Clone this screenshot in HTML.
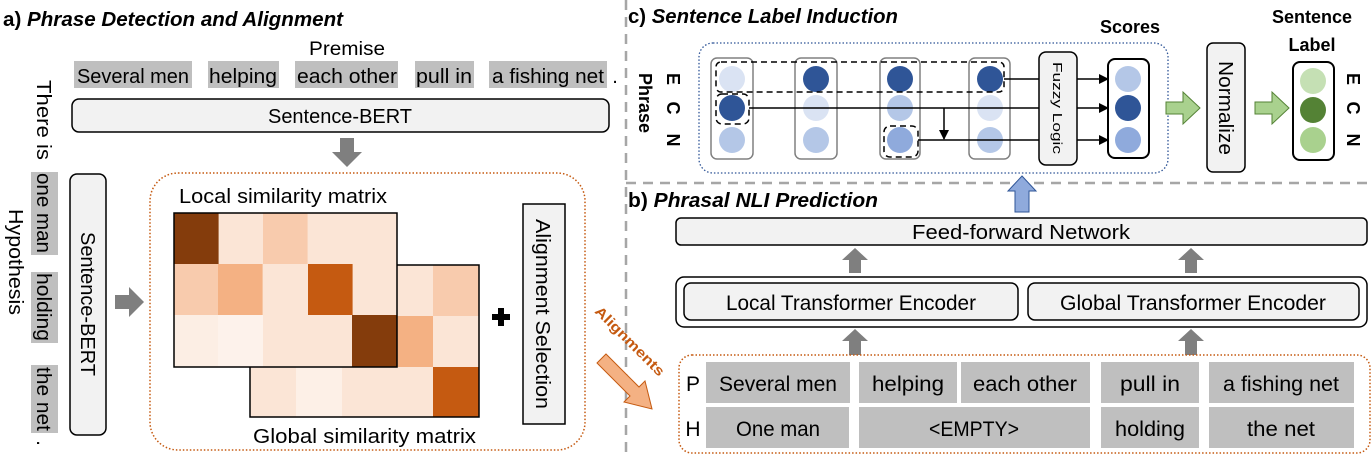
<!DOCTYPE html>
<html><head><meta charset="utf-8"><style>
html,body{margin:0;padding:0;background:#fff;}
svg{display:block;font-family:"Liberation Sans",sans-serif;}
</style></head><body>
<svg width="1371" height="456" viewBox="0 0 1371 456" xmlns="http://www.w3.org/2000/svg">
<defs>
<marker id="ah" markerWidth="10" markerHeight="10" refX="9" refY="5" orient="auto" markerUnits="userSpaceOnUse"><path d="M0,0 L10,5 L0,10 z" fill="#000"/></marker>
</defs>
<line x1="626" y1="0" x2="626" y2="456" stroke="#a6a6a6" stroke-width="2.5" stroke-dasharray="10,7"/>
<line x1="626" y1="183" x2="1371" y2="183" stroke="#a6a6a6" stroke-width="2.5" stroke-dasharray="10,7"/>

<!-- a) -->
<text x="3" y="26" font-size="20" font-weight="bold" textLength="340" lengthAdjust="spacingAndGlyphs"><tspan>a) </tspan><tspan font-style="italic">Phrase Detection and Alignment</tspan></text>
<text x="347" y="55" font-size="19" text-anchor="middle" textLength="76" lengthAdjust="spacingAndGlyphs">Premise</text>
<g fill="#bfbfbf">
<rect x="74" y="61" width="118" height="27"/><rect x="208" y="61" width="71" height="27"/><rect x="295" y="61" width="103" height="27"/><rect x="415" y="61" width="59" height="27"/><rect x="489" y="61" width="118" height="27"/>
</g>
<g font-size="20" text-anchor="middle">
<text x="133" y="83" textLength="112" lengthAdjust="spacingAndGlyphs">Several men</text>
<text x="243" y="83" textLength="68" lengthAdjust="spacingAndGlyphs">helping</text>
<text x="347" y="83" textLength="100" lengthAdjust="spacingAndGlyphs">each other</text>
<text x="444" y="83" textLength="56" lengthAdjust="spacingAndGlyphs">pull in</text>
<text x="548" y="83" textLength="112" lengthAdjust="spacingAndGlyphs">a fishing net</text>
<text x="615" y="83">.</text>
</g>
<rect x="72" y="99" width="537" height="33" rx="7" fill="#f2f2f2" stroke="#000" stroke-width="1.5"/>
<text x="340" y="123" font-size="20" text-anchor="middle" textLength="144" lengthAdjust="spacingAndGlyphs">Sentence-BERT</text>
<path d="M340,138 h14 v14 h8 l-15,15 l-15,-15 h8 z" fill="#7f7f7f"/>

<g fill="#bfbfbf">
<rect x="31" y="172" width="27" height="83"/><rect x="31" y="272" width="27" height="71"/><rect x="31" y="365" width="27" height="68"/>
</g>
<g font-size="20" text-anchor="middle">
<text transform="translate(37,120) rotate(90)" textLength="80" lengthAdjust="spacingAndGlyphs">There  is</text>
<text transform="translate(37,213) rotate(90)" textLength="80" lengthAdjust="spacingAndGlyphs">one man</text>
<text transform="translate(37,307) rotate(90)" textLength="68" lengthAdjust="spacingAndGlyphs">holding</text>
<text transform="translate(37,399) rotate(90)" textLength="64" lengthAdjust="spacingAndGlyphs">the net</text>
<text transform="translate(37,443) rotate(90)">.</text>
<text transform="translate(9,262) rotate(90)" textLength="106" lengthAdjust="spacingAndGlyphs">Hypothesis</text>
</g>
<rect x="70" y="174" width="36" height="261" rx="7" fill="#f2f2f2" stroke="#000" stroke-width="1.5"/>
<text transform="translate(81,304) rotate(90)" font-size="20" text-anchor="middle" textLength="144" lengthAdjust="spacingAndGlyphs">Sentence-BERT</text>
<path d="M115,295 h14 v-8 l15,15 l-15,15 v-8 h-14 z" fill="#7f7f7f"/>

<rect x="150" y="173" width="435" height="277" rx="28" fill="none" stroke="#c55a11" stroke-width="1.5" stroke-dasharray="1.5,2"/>
<text x="179" y="203" font-size="20" textLength="208" lengthAdjust="spacingAndGlyphs">Local similarity matrix</text>
<g>
<rect x="250" y="265" width="229" height="152" fill="#fbe5d6"/>
<rect x="433" y="265" width="46" height="51" fill="#f8cbad"/>
<rect x="397" y="316" width="36" height="51" fill="#f4b183"/>
<rect x="296" y="367" width="46" height="50" fill="#fdf0e7"/>
<rect x="433" y="367" width="46" height="50" fill="#c55a11"/>
<rect x="250" y="265" width="229" height="152" fill="none" stroke="#000" stroke-width="1.5"/>
</g>
<g>
<rect x="174" y="213" width="223" height="154" fill="#fbe5d6"/>
<rect x="174" y="213" width="44.6" height="51" fill="#843c0c"/>
<rect x="263" y="213" width="44.6" height="51" fill="#f8cbad"/>
<rect x="174" y="264" width="44.6" height="51" fill="#f8cbad"/>
<rect x="218" y="264" width="44.6" height="51" fill="#f4b183"/>
<rect x="308" y="264" width="44.6" height="51" fill="#c55a11"/>
<rect x="174" y="315" width="89" height="52" fill="#fceee4"/>
<rect x="218" y="315" width="45" height="52" fill="#fdf2eb"/>
<rect x="352" y="315" width="45" height="52" fill="#843c0c"/>
<rect x="174" y="213" width="223" height="154" fill="none" stroke="#000" stroke-width="1.5"/>
</g>
<text x="253" y="443" font-size="20" textLength="223" lengthAdjust="spacingAndGlyphs">Global similarity matrix</text>
<path d="M498,308 h6 v6 h6 v6 h-6 v6 h-6 v-6 h-6 v-6 h6 z" fill="#000"/>
<rect x="523" y="204" width="42" height="220" fill="#f2f2f2" stroke="#000" stroke-width="1.5"/>
<text transform="translate(536,314) rotate(90)" font-size="20" text-anchor="middle" textLength="190" lengthAdjust="spacingAndGlyphs">Alignment Selection</text>

<text transform="translate(594,312) rotate(45)" font-size="14" font-weight="bold" fill="#c55a11" textLength="92" lengthAdjust="spacingAndGlyphs">Alignments</text>
<path d="M606,354 L639,387 L645,381 L652,409 L624,402 L630,396 L597,363 z" fill="#f4b183" stroke="#c55a11" stroke-width="1"/>

<!-- c) -->
<text x="628" y="23" font-size="20" font-weight="bold" textLength="270" lengthAdjust="spacingAndGlyphs"><tspan>c) </tspan><tspan font-style="italic">Sentence Label Induction</tspan></text>
<rect x="699" y="43" width="469" height="130" rx="14" fill="none" stroke="#2f5597" stroke-width="1.3" stroke-dasharray="1.5,2"/>
<g font-size="18" font-weight="bold" text-anchor="middle">
<text transform="translate(639,103) rotate(90)">Phrase</text>
<text transform="translate(667,79) rotate(90)">E</text>
<text transform="translate(667,108) rotate(90)">C</text>
<text transform="translate(667,140) rotate(90)">N</text>
<text transform="translate(1347,79) rotate(90)">E</text>
<text transform="translate(1347,108) rotate(90)">C</text>
<text transform="translate(1347,140) rotate(90)">N</text>
<text x="1130" y="33">Scores</text>
<text x="1312" y="23">Sentence</text>
<text x="1312" y="51">Label</text>
</g>
<g fill="none" stroke="#808080" stroke-width="1.5">
<rect x="711" y="58" width="42" height="101" rx="6"/>
<rect x="795" y="58" width="42" height="101" rx="6"/>
<rect x="880" y="58" width="40" height="101" rx="6"/>
<rect x="969" y="58" width="41" height="101" rx="6"/>
</g>
<g>
<circle cx="732" cy="79" r="13" fill="#dae3f3"/><circle cx="732" cy="108" r="13" fill="#2f5597"/><circle cx="732" cy="140" r="13" fill="#b4c7e7"/>
<circle cx="816" cy="79" r="13" fill="#2f5597"/><circle cx="816" cy="108" r="13" fill="#dae3f3"/><circle cx="816" cy="140" r="13" fill="#b4c7e7"/>
<circle cx="900" cy="79" r="13" fill="#2f5597"/><circle cx="900" cy="108" r="13" fill="#b4c7e7"/><circle cx="900" cy="140" r="13" fill="#8faadc"/>
<circle cx="990" cy="79" r="13" fill="#2f5597"/><circle cx="990" cy="108" r="13" fill="#dae3f3"/><circle cx="990" cy="140" r="13" fill="#b4c7e7"/>
</g>
<g fill="none" stroke="#000" stroke-width="1.5" stroke-dasharray="6,4">
<rect x="716" y="62" width="288" height="30" rx="5"/>
<rect x="716" y="94" width="33" height="30" rx="6"/>
<rect x="884" y="126" width="34" height="31" rx="6"/>
</g>
<g stroke="#000" stroke-width="1.5" fill="none">
<line x1="1004" y1="79" x2="1039" y2="79"/>
<line x1="749" y1="108" x2="1039" y2="108"/>
<line x1="918" y1="140" x2="1039" y2="140"/>
<line x1="944" y1="108" x2="944" y2="139" marker-end="url(#ah)"/>
<line x1="1077" y1="79" x2="1108" y2="79" marker-end="url(#ah)"/>
<line x1="1077" y1="108" x2="1108" y2="108" marker-end="url(#ah)"/>
<line x1="1077" y1="140" x2="1108" y2="140" marker-end="url(#ah)"/>
</g>
<rect x="1039" y="52" width="38" height="113" rx="7" fill="#f2f2f2" stroke="#000" stroke-width="1.5"/>
<text transform="translate(1053,108) rotate(90)" font-size="13" text-anchor="middle" textLength="92" lengthAdjust="spacingAndGlyphs">Fuzzy Logic</text>
<rect x="1108" y="59" width="41" height="99" rx="7" fill="#fff" stroke="#000" stroke-width="2"/>
<circle cx="1128" cy="79" r="13" fill="#b4c7e7"/><circle cx="1128" cy="108" r="13" fill="#2f5597"/><circle cx="1128" cy="140" r="13" fill="#8faadc"/>
<path d="M1166,102 h17 v-10 l17,16 l-17,16 v-10 h-17 z" fill="#a9d18e" stroke="#548235" stroke-width="1"/>
<rect x="1207" y="43" width="38" height="129" rx="6" fill="#f2f2f2" stroke="#000" stroke-width="1.5"/>
<text transform="translate(1219,108) rotate(90)" font-size="20" text-anchor="middle" textLength="94" lengthAdjust="spacingAndGlyphs">Normalize</text>
<path d="M1255,102 h17 v-10 l17,16 l-17,16 v-10 h-17 z" fill="#a9d18e" stroke="#548235" stroke-width="1"/>
<rect x="1293" y="62" width="41" height="98" rx="7" fill="#fff" stroke="#000" stroke-width="2"/>
<circle cx="1313" cy="81" r="13" fill="#c5e0b4"/><circle cx="1313" cy="110" r="13" fill="#548235"/><circle cx="1313" cy="140" r="13" fill="#a9d18e"/>
<path d="M1022,176 l14,15 h-7 v21 h-14 v-21 h-7 z" fill="#8faadc" stroke="#2f5597" stroke-width="1"/>

<!-- b) -->
<text x="628" y="207" font-size="20" font-weight="bold" textLength="250" lengthAdjust="spacingAndGlyphs"><tspan>b) </tspan><tspan font-style="italic">Phrasal NLI Prediction</tspan></text>
<rect x="676" y="218" width="691" height="27" rx="5" fill="#f2f2f2" stroke="#000" stroke-width="1.5"/>
<text x="1021" y="239" font-size="20" text-anchor="middle" textLength="218" lengthAdjust="spacingAndGlyphs">Feed-forward Network</text>
<g fill="#7f7f7f">
<path d="M855,248 l13,12 h-7 v13 h-12 v-13 h-7 z"/>
<path d="M1191,248 l13,12 h-7 v13 h-12 v-13 h-7 z"/>
<path d="M855,329 l13,12 h-7 v14 h-12 v-14 h-7 z"/>
<path d="M1191,329 l13,12 h-7 v14 h-12 v-14 h-7 z"/>
</g>
<rect x="676" y="277" width="691" height="50" rx="8" fill="#fff" stroke="#000" stroke-width="1.5"/>
<rect x="684" y="283" width="334" height="37" rx="7" fill="#f2f2f2" stroke="#000" stroke-width="1.5"/>
<rect x="1028" y="283" width="331" height="37" rx="7" fill="#f2f2f2" stroke="#000" stroke-width="1.5"/>
<text x="851" y="310" font-size="21" text-anchor="middle" textLength="250" lengthAdjust="spacingAndGlyphs">Local Transformer Encoder</text>
<text x="1193" y="310" font-size="21" text-anchor="middle" textLength="266" lengthAdjust="spacingAndGlyphs">Global Transformer Encoder</text>
<rect x="679" y="355" width="691" height="98" rx="13" fill="none" stroke="#c55a11" stroke-width="1.5" stroke-dasharray="1.5,2"/>
<g fill="#bfbfbf">
<rect x="706" y="362" width="144" height="41"/><rect x="859" y="362" width="98" height="41"/><rect x="961" y="362" width="129" height="41"/><rect x="1101" y="362" width="98" height="41"/><rect x="1209" y="362" width="145" height="41"/>
<rect x="706" y="407" width="143" height="41"/><rect x="859" y="407" width="231" height="41"/><rect x="1101" y="407" width="98" height="41"/><rect x="1209" y="407" width="145" height="41"/>
</g>
<g font-size="21" text-anchor="middle">
<text x="693" y="391">P</text><text x="693" y="436">H</text>
<text x="778" y="391" textLength="118" lengthAdjust="spacingAndGlyphs">Several men</text>
<text x="908" y="391" textLength="72" lengthAdjust="spacingAndGlyphs">helping</text>
<text x="1025" y="391" textLength="104" lengthAdjust="spacingAndGlyphs">each other</text>
<text x="1150" y="391" textLength="60" lengthAdjust="spacingAndGlyphs">pull in</text>
<text x="1281" y="391" textLength="116" lengthAdjust="spacingAndGlyphs">a fishing net</text>
<text x="778" y="436" textLength="84" lengthAdjust="spacingAndGlyphs">One man</text>
<text x="974" y="436" textLength="90" lengthAdjust="spacingAndGlyphs">&lt;EMPTY&gt;</text>
<text x="1150" y="436" textLength="70" lengthAdjust="spacingAndGlyphs">holding</text>
<text x="1281" y="436" textLength="68" lengthAdjust="spacingAndGlyphs">the net</text>
</g>
</svg>
</body></html>
